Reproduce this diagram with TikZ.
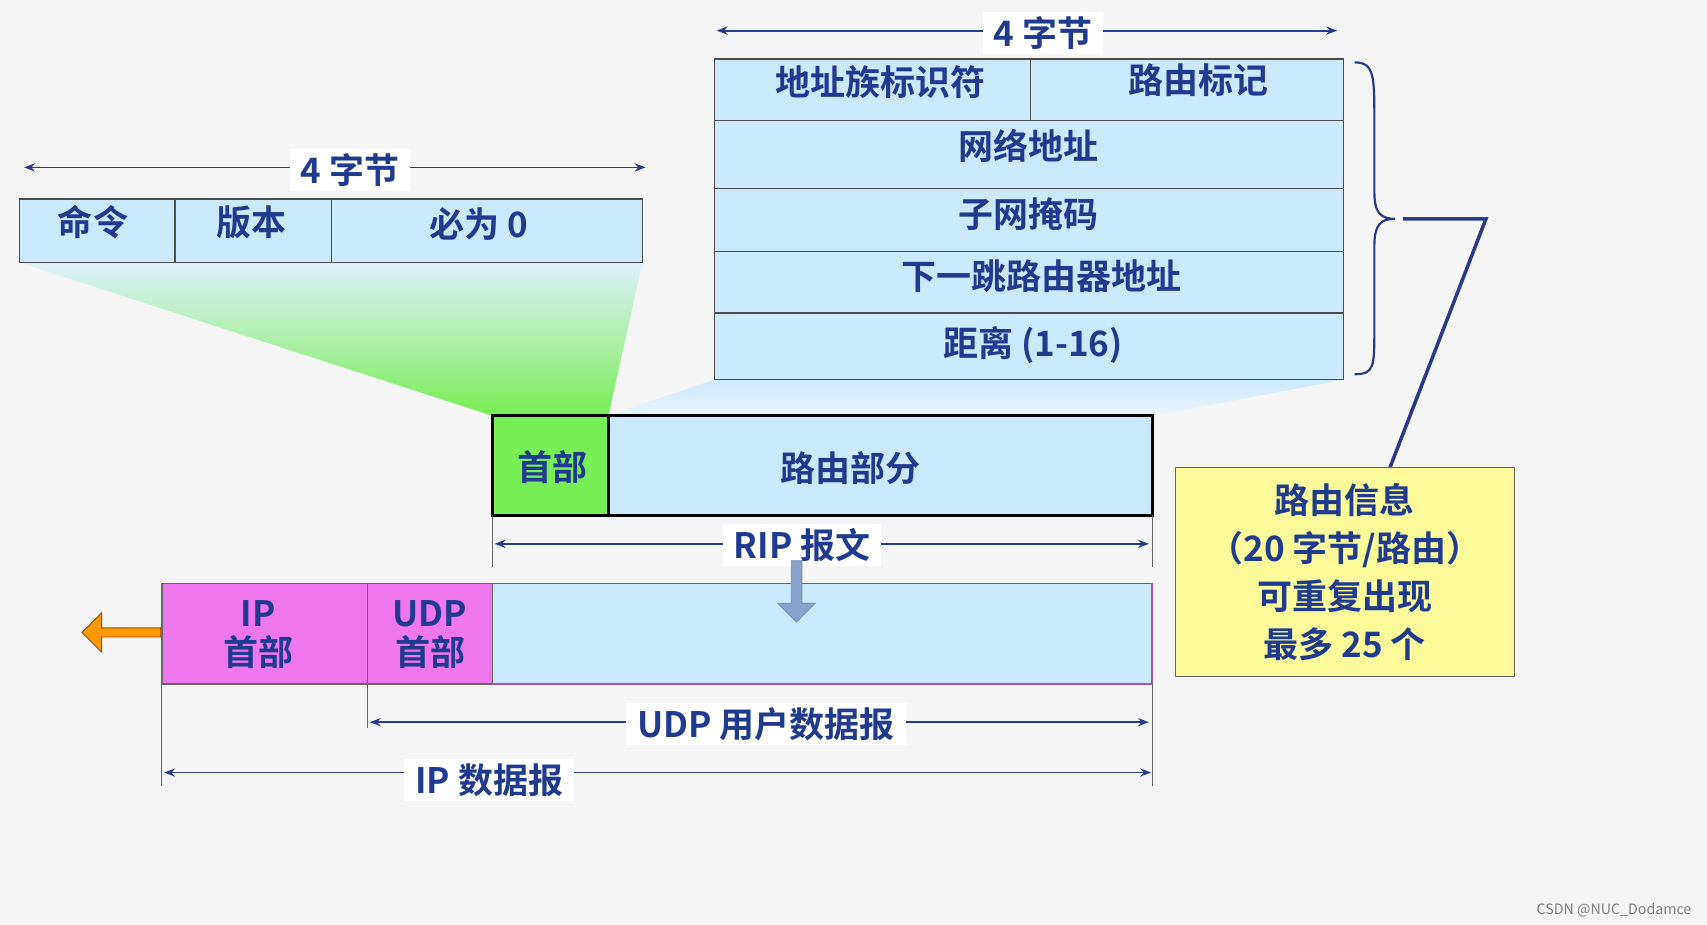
\documentclass[tikz,border=0pt]{standalone}
\usepackage{fontspec}
\setmainfont{Noto Sans CJK SC}[BoldFont=Noto Sans CJK SC Bold]
\usetikzlibrary{arrows.meta,shapes.arrows}
\definecolor{tx}{HTML}{1F3A8F}
\definecolor{lb}{HTML}{CCE8FB}
\definecolor{gr}{HTML}{77EE55}
\definecolor{pk}{HTML}{EE77EE}
\definecolor{yl}{HTML}{FAFA9A}
\definecolor{ln}{HTML}{2A3A8A}
\begin{document}
\begin{tikzpicture}[x=0.5pt,y=-0.5pt,
  t/.style={text=tx,font=\fontsize{16}{18}\selectfont\bfseries,inner sep=1pt},
  box/.style={draw=black!70,line width=0.6pt,fill=lb},
  dim/.style={draw=ln,line width=0.8pt,{Stealth[length=5pt]}-{Stealth[length=5pt]}},
  lab/.style={t,fill=white,inner xsep=5pt,inner ysep=2pt},
  tick/.style={draw=black!60,line width=0.5pt}]
\path[use as bounding box,fill=black!4] (0,0) rectangle (1560,845);
% fans
\shade[top color=lb!60!white,bottom color=gr] (18,240) -- (587,240) -- (556,380) -- (450,380) -- cycle;
\shade[top color=lb,bottom color=lb!40!white] (653,347) -- (1228,347) -- (1053,380) -- (556,380) -- cycle;
% top-left header
\draw[box] (18,182) rectangle (587,240);
\draw[box] (160,182) -- (160,240) (303,182) -- (303,240);
\node[t] (cmd) at (85,203) {命令};
\node[t] (ver) at (230,203) {版本};
\node[t] (zero) at (438,205) {必为 0};
\coordinate (a1) at (22,153); \coordinate (a2) at (590,153);
\draw[dim] (a1) -- (a2);
\node[lab] (b1) at (320,155) {4 字节};
% table
\draw[box] (653,54) rectangle (1228,347);
\foreach \y in {110,172,230,286} \draw[black!70,line width=0.6pt] (653,\y) -- (1228,\y);
\draw[black!70,line width=0.6pt] (942,54) -- (942,110);
\node[t] at (805,75) {地址族标识符};
\node[t] at (1095,73) {路由标记};
\node[t] at (940,133) {网络地址};
\node[t] at (940,196) {子网掩码};
\node[t] at (952,252) {下一跳路由器地址};
\node[t] at (944,315) {距离 (1-16)};
\coordinate (c1) at (655,28); \coordinate (c2) at (1222,28);
\draw[dim] (c1) -- (c2);
\node[lab] (b2) at (953,30) {4 字节};
% brace
\draw[ln,line width=1pt] (1238,57) .. controls (1256,57) and (1256,70) .. (1256,110) -- (1256,175) .. controls (1256,195) and (1262,200) .. (1275,200) .. controls (1262,200) and (1256,205) .. (1256,225) -- (1256,300) .. controls (1256,335) and (1256,342) .. (1238,342);
\coordinate (p1) at (1282,200); \coordinate (p2) at (1358,200); \coordinate (p3) at (1270,428);
\draw[ln,line width=1.6pt] (p1) -- (p2) -- (p3);
% RIP
\draw[black,line width=1.2pt,fill=lb] (450,380) rectangle (1053,471);
\draw[black,line width=1.2pt,fill=gr] (450,380) rectangle (556,471);
\node[t] (hd) at (505,427) {首部};
\node[t] (rp) at (777,428) {路由部分};
\draw[tick] (450,471) -- (450,518) (1053,471) -- (1053,518);
\coordinate (r1) at (452,497); \coordinate (r2) at (1050,497);
\draw[dim] (r1) -- (r2);
\node[lab] (rl) at (733,498) {RIP 报文};
% bottom
\draw[draw=black!60,line width=0.6pt,fill=lb] (148,533) rectangle (1053,625);
\draw[draw=black!60,line width=0.6pt,fill=pk] (148,533) rectangle (336,625);
\draw[draw=black!60,line width=0.6pt,fill=pk] (336,533) rectangle (450,625);
\draw[pk!70!black,line width=1pt] (450,625) -- (1053,625) -- (1053,533);
\node[t,align=center] (ip) at (236,580) {IP\\首部};
\node[t,align=center] (udp) at (393,580) {UDP\\首部};
\node[single arrow,draw=ln!60,fill=ln!40!lb,shape border rotate=270,minimum width=17pt,single arrow head extend=3pt,minimum height=28pt,inner sep=1pt] (dn) at (728,538) {};
\node[single arrow,draw=orange!60!black,fill=orange!80!yellow,shape border rotate=180,minimum width=18pt,single arrow head extend=4pt,minimum height=36pt,inner sep=1pt] (lf) at (113,578) {};
\draw[tick] (148,625) -- (148,718) (336,625) -- (336,665) (1053,625) -- (1053,718);
\coordinate (u1) at (338,660); \coordinate (u2) at (1050,660);
\draw[dim] (u1) -- (u2);
\node[lab] (ul) at (700,662) {UDP 用户数据报};
\coordinate (i1) at (150,706); \coordinate (i2) at (1052,706);
\draw[dim] (i1) -- (i2);
\node[lab] (il) at (447,713) {IP 数据报};
% yellow
\node[draw=black!60,fill=yl,minimum width=155pt,minimum height=95.5pt,inner sep=0pt] (yb) at (1229,522.5) {};
\node[t,align=center,font=\fontsize{16}{22}\selectfont\bfseries] at (1229,523) {路由信息\\（20 字节/路由）\\可重复出现\\最多 25 个};
\node[text=black!50,font=\fontsize{6.5}{8}\selectfont] at (1475,832) {CSDN @NUC\_Dodamce};
\end{tikzpicture}
\end{document}
